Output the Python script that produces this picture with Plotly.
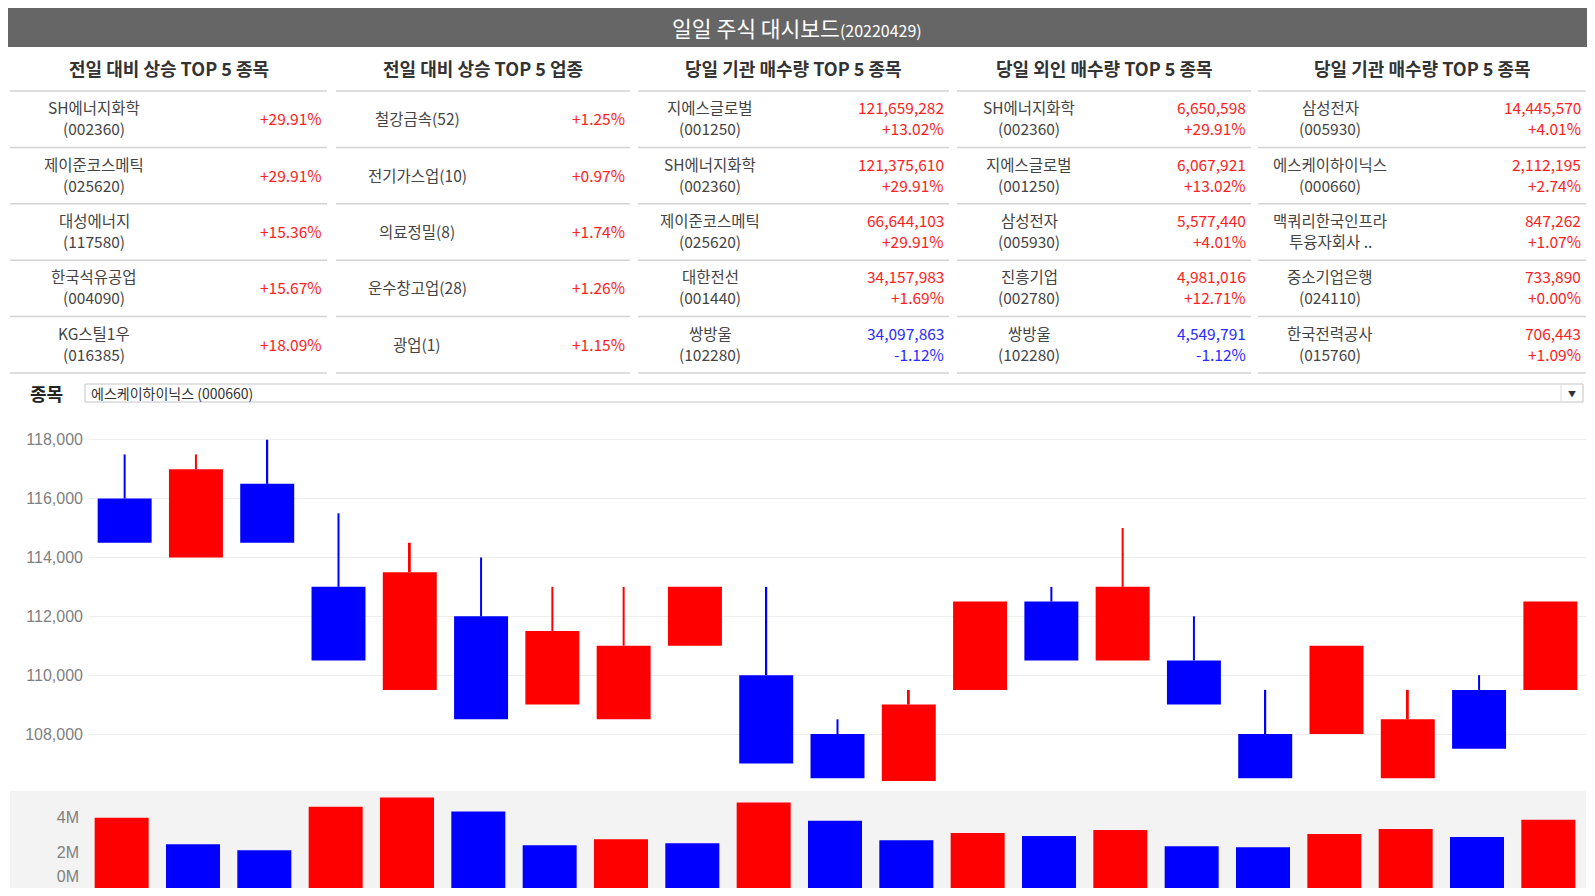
import plotly.graph_objects as go

# the page body keeps its default 8px margin: the figure sits at (8, 8)
# and is sized so that the page exactly fills the 1595x896 window
OFF = 8
W, H = 1595 - 2 * OFF, 896 - 2 * OFF
FONT = 'Noto Sans CJK KR'
RED = '#ff0000'
BLUE = '#0000ff'
TXT_RED = '#ff2222'
TXT_BLUE = '#2a2aff'

TITLE = '일일 주식 대시보드'
BASE_DATE = '20220429'

# --- 상단 TOP 5 표 ---
headers = [
    '전일 대비 상승 TOP 5 종목',
    '전일 대비 상승 TOP 5 업종',
    '당일 기관 매수량 TOP 5 종목',
    '당일 외인 매수량 TOP 5 종목',
    '당일 기관 매수량 TOP 5 종목',
]

rise_names = ['SH에너지화학', '제이준코스메틱', '대성에너지', '한국석유공업', 'KG스틸1우']
rise_codes = ['002360', '025620', '117580', '004090', '016385']
rise_pct = [29.91, 29.91, 15.36, 15.67, 18.09]

sector_names = ['철강금속(52)', '전기가스업(10)', '의료정밀(8)', '운수창고업(28)', '광업(1)']
sector_pct = [1.25, 0.97, 1.74, 1.26, 1.15]

inst_names = ['지에스글로벌', 'SH에너지화학', '제이준코스메틱', '대한전선', '쌍방울']
inst_codes = ['001250', '002360', '025620', '001440', '102280']
inst_qty = [121659282, 121375610, 66644103, 34157983, 34097863]
inst_pct = [13.02, 29.91, 29.91, 1.69, -1.12]

frgn_names = ['SH에너지화학', '지에스글로벌', '삼성전자', '진흥기업', '쌍방울']
frgn_codes = ['002360', '001250', '005930', '002780', '102280']
frgn_qty = [6650598, 6067921, 5577440, 4981016, 4549791]
frgn_pct = [29.91, 13.02, 4.01, 12.71, -1.12]

inst2_names = ['삼성전자', '에스케이하이닉스', '맥쿼리한국인프라투융자회사', '중소기업은행', '한국전력공사']
inst2_codes = ['005930', '000660', '088980', '024110', '015760']
inst2_qty = [14445570, 2112195, 847262, 733890, 706443]
inst2_pct = [4.01, 2.74, 1.07, 0.00, 1.09]

# --- 선택 종목 일봉 ---
selected = 1  # inst2 목록 중 에스케이하이닉스
dates = ['2022-04-01', '2022-04-04', '2022-04-05', '2022-04-06', '2022-04-07',
         '2022-04-08', '2022-04-11', '2022-04-12', '2022-04-13', '2022-04-14',
         '2022-04-15', '2022-04-18', '2022-04-19', '2022-04-20', '2022-04-21',
         '2022-04-22', '2022-04-25', '2022-04-26', '2022-04-27', '2022-04-28',
         '2022-04-29']
opens = [116000, 114000, 116500, 113000, 109500, 112000, 109000, 108500, 111000, 110000,
         108000, 106400, 109500, 112500, 110500, 110500, 108000, 108000, 106500, 109500,
         109500]
highs = [117500, 117500, 118000, 115500, 114500, 114000, 113000, 113000, 113000, 113000,
         108500, 109500, 112500, 113000, 115000, 112000, 109500, 111000, 109500, 110000,
         112500]
lows = [114500, 114000, 114500, 110500, 109500, 108500, 109000, 108500, 111000, 107000,
        106500, 106400, 109500, 110500, 110500, 109000, 106500, 108000, 106500, 107500,
        109500]
closes = [114500, 117000, 114500, 110500, 113500, 108500, 111500, 111000, 113000, 107000,
          106500, 109000, 112500, 110500, 113000, 109000, 106500, 111000, 108500, 107500,
          112500]
volumes = [3950000, 2460000, 2120000, 4580000, 5100000, 4300000, 2410000, 2750000,
           2520000, 4810000, 3780000, 2690000, 3090000, 2920000, 3270000, 2350000,
           2290000, 3040000, 3320000, 2870000, 3840000]


def px(x):
    # page pixel -> paper x
    return (x - OFF) / W


def py(y):
    # page pixel -> paper y
    return 1 - (y - OFF) / H


def sign_color(v):
    return TXT_BLUE if v < 0 else TXT_RED


def wrap_name(name):
    # 긴 이름은 두 줄로 자르고 말줄임
    if len(name) > 8:
        return name[:8], name[8:13] + ' ..'
    return name, None


annotations = []
shapes = []


def text(x, y, s, size=15.5, color='#444', anchor='center'):
    annotations.append(dict(
        x=px(x), y=py(y), xref='paper', yref='paper', text=s, showarrow=False,
        xanchor=anchor, yanchor='middle', font=dict(family=FONT, size=size, color=color),
    ))


# title bar
shapes.append(dict(type='rect', xref='paper', yref='paper', x0=px(8), x1=px(1592),
                   y0=py(47), y1=py(8), fillcolor='#666666', line=dict(width=0)))
text(797, 28, TITLE + '<span style="font-size:16px">(%s)</span>' % BASE_DATE,
     size=21.5, color='white')

# tables
cols = [(10, 327), (336, 630), (638, 949), (957, 1251), (1258, 1586)]
name_off = [84, 81, 72, 72, 72]
row_top = 91
row_h = 56.4

for ci, (x0, x1) in enumerate(cols):
    text((x0 + x1) / 2, 68, '<b>%s</b>' % headers[ci], size=18, color='#333')
    for r in range(6):
        y = row_top + r * row_h
        shapes.append(dict(type='line', xref='paper', yref='paper', x0=px(x0), x1=px(x1),
                           y0=py(y), y1=py(y), line=dict(color='#d3d3d3', width=1.5)))

tables = [
    (rise_names, rise_codes, None, rise_pct),
    (sector_names, None, None, sector_pct),
    (inst_names, inst_codes, inst_qty, inst_pct),
    (frgn_names, frgn_codes, frgn_qty, frgn_pct),
    (inst2_names, inst2_codes, inst2_qty, inst2_pct),
]

for ci, (names, codes, qty, pct) in enumerate(tables):
    x0, x1 = cols[ci]
    nx = x0 + name_off[ci]
    rx = x1 - 3
    for r in range(5):
        c = row_top + r * row_h + row_h / 2
        col = sign_color(pct[r])
        if codes is None:
            text(nx, c - 1, names[r])
        else:
            first, rest = wrap_name(names[r])
            text(nx, c - 12, first)
            text(nx, c + 9, rest if rest else '(%s)' % codes[r])
        pct_s = '%+.2f%%' % pct[r]
        if qty is None:
            text(rx, c - 1, pct_s, color=col, anchor='right')
        else:
            text(rx, c - 12, '{:,}'.format(qty[r]), color=col, anchor='right')
            text(rx, c + 9, pct_s, color=col, anchor='right')

# 종목 선택 상자
text(46, 393, '<b>종목</b>', size=18, color='#222')
shapes.append(dict(type='rect', xref='paper', yref='paper', x0=px(85), x1=px(1583),
                   y0=py(402), y1=py(384), fillcolor='white',
                   line=dict(color='#c4c4c4', width=1)))
shapes.append(dict(type='line', xref='paper', yref='paper', x0=px(1561), x1=px(1561),
                   y0=py(401), y1=py(385), line=dict(color='#dddddd', width=1)))
text(89, 393, '%s (%s)' % (inst2_names[selected], inst2_codes[selected]),
     size=14, color='#333', anchor='left')
text(1572, 393, '▼', size=8, color='#333')

# 거래량 배경
shapes.append(dict(type='rect', xref='paper', yref='paper', x0=px(10), x1=px(1586),
                   y0=py(888), y1=py(791), fillcolor='#f3f3f3', line=dict(width=0),
                   layer='below'))

# candles drawn as floating bars
body_base = [min(o, c) for o, c in zip(opens, closes)]
body_len = [abs(c - o) for o, c in zip(opens, closes)]
up_base = [max(o, c) for o, c in zip(opens, closes)]
up_len = [h - b for h, b in zip(highs, up_base)]
low_len = [b - l for b, l in zip(body_base, lows)]
candle_colors = [RED if c >= o else BLUE for o, c in zip(opens, closes)]
vol_colors = [RED if i == 0 or v >= volumes[i - 1] else BLUE for i, v in enumerate(volumes)]

fig = go.Figure()
fig.add_trace(go.Bar(x=dates, y=up_len, base=up_base, width=0.028,
                     marker=dict(color=candle_colors, line=dict(width=0)),
                     hoverinfo='skip', xaxis='x', yaxis='y'))
fig.add_trace(go.Bar(x=dates, y=low_len, base=lows, width=0.028,
                     marker=dict(color=candle_colors, line=dict(width=0)),
                     hoverinfo='skip', xaxis='x', yaxis='y'))
fig.add_trace(go.Bar(x=dates, y=body_len, base=body_base, width=0.757,
                     marker=dict(color=candle_colors, line=dict(width=0)),
                     customdata=list(zip(opens, highs, lows, closes)),
                     hovertemplate='%{x}<br>시가 %{customdata[0]:,}<br>고가 %{customdata[1]:,}'
                                   '<br>저가 %{customdata[2]:,}<br>종가 %{customdata[3]:,}<extra></extra>',
                     xaxis='x', yaxis='y'))
fig.add_trace(go.Bar(x=dates, y=volumes, width=0.757,
                     marker=dict(color=vol_colors, line=dict(width=0)),
                     hovertemplate='%{x}<br>거래량 %{y:,}<extra></extra>',
                     xaxis='x2', yaxis='y2'))
# draws nothing; only gives the 0M label axis a subplot
fig.add_trace(go.Scatter(x=dates, y=volumes, mode='none', hoverinfo='skip',
                         xaxis='x2', yaxis='y3'))

vol_range = [0, 5460000]
tick_font = dict(family='Liberation Sans', size=16, color='#808080')
fig.update_layout(
    width=W, height=H,
    margin=dict(l=0, r=0, t=0, b=0, pad=0),
    paper_bgcolor='white', plot_bgcolor='rgba(0,0,0,0)',
    showlegend=False, barmode='overlay',
    shapes=shapes, annotations=annotations,
    xaxis=dict(domain=[px(89), px(1586)], type='category', anchor='y',
               showticklabels=False, showgrid=False, zeroline=False),
    yaxis=dict(domain=[py(787), py(425)], range=[106200, 118500],
               tickvals=list(range(108000, 118001, 2000)), tickformat=',',
               gridcolor='#eeeeee', gridwidth=1, zeroline=False,
               tickfont=tick_font, ticklabelstandoff=5, anchor='x'),
    xaxis2=dict(domain=[px(86), px(1584)], type='category', anchor='y2',
                showticklabels=False, showgrid=False, zeroline=False),
    yaxis2=dict(domain=[py(888), py(791)], range=vol_range,
                tickvals=[2000000, 4000000], ticktext=['2M', '4M'],
                showgrid=False, zeroline=False, tickfont=tick_font,
                ticklabelstandoff=6, anchor='x2'),
    # the 0M label sits just above the baseline so it stays inside the view
    yaxis3=dict(range=vol_range, overlaying='y2', anchor='x2', side='left',
                tickvals=[0], ticktext=['0M'],
                ticklabelposition='outside top', ticklabeloverflow='allow',
                showgrid=False, zeroline=False, tickfont=tick_font,
                ticklabelstandoff=6),
    font=dict(family=FONT),
)

fig.write_html('out.html', config=dict(displayModeBar=False))
